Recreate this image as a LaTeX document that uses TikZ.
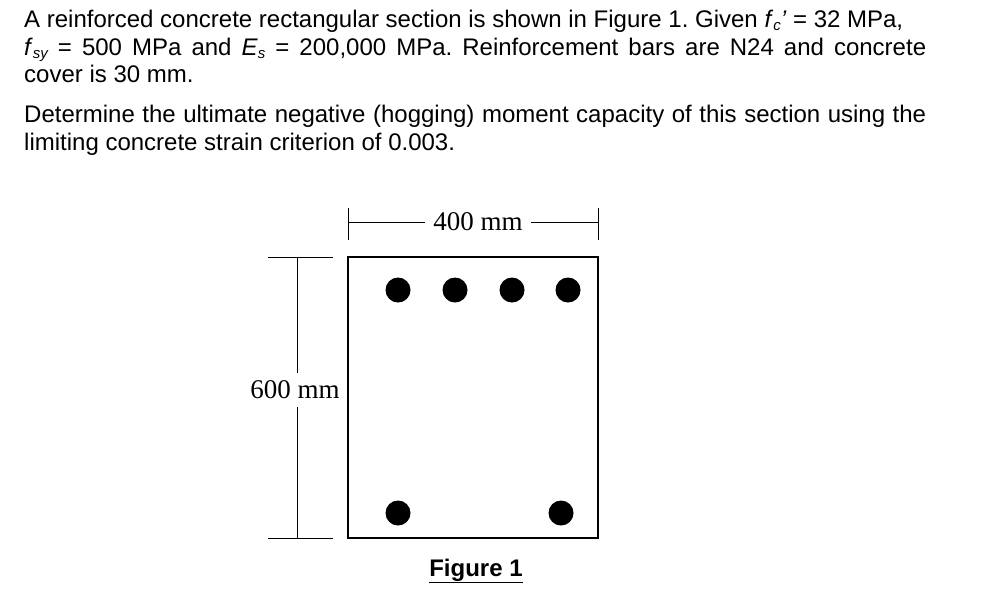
\documentclass[tikz,border=0pt]{standalone}
\usepackage{fontspec}
\setmainfont{Liberation Sans}
\newfontfamily\serifd{Liberation Serif}
\newcommand{\sbx}[1]{\raisebox{-0.25ex}{\fontsize{15}{15}\selectfont\itshape #1}}
\begin{document}
\begin{tikzpicture}[x=1pt,y=-1pt,
  para/.style={anchor=north west,inner sep=0pt,text width=902pt,align=justify,font=\fontsize{24}{27.5}\selectfont\frenchspacing},
  dimtxt/.style={fill=white,inner sep=4pt,font=\serifd\fontsize{27}{30}\selectfont},
  bar/.style={circle,fill=black,minimum size=25pt,inner sep=0pt},
  dimline/.style={line width=0.8pt}]
\useasboundingbox (0,0) rectangle (1000,614);
\node[para] (p1) at (24,10) {A reinforced concrete rectangular section is shown in Figure 1. Given \textit{f}\sbx{c}\textit{'} = 32 MPa,\\ \textit{f}\sbx{sy} = 500 MPa and \textit{E}\sbx{s} = 200,000 MPa. Reinforcement bars are N24 and concrete\linebreak cover is 30 mm.};
\node[para] (p2) at (24,105) {Determine the ultimate negative (hogging) moment capacity of this section using the\linebreak limiting concrete strain criterion of 0.003.};
\draw[line width=1.6pt] (348,257) rectangle (598,538);
\foreach \n/\x in {a/398,b/455,c/512,d/568} \node[bar] (t\n) at (\x,290) {};
\node[bar] (b1) at (398,513) {};
\node[bar] (b2) at (561,513) {};
\draw[dimline] (348,208) -- (348,240) (598,208) -- (598,240);
\draw[dimline] (348,222) -- (598,222);
\node[dimtxt,inner xsep=8pt] (w) at (478,222) {400 mm};
\draw[dimline] (268,257) -- (333,257) (268,538) -- (333,538);
\draw[dimline] (297,257) -- (297,538);
\node[dimtxt,inner ysep=8pt] (h) at (295,390) {600 mm};
\node[font=\bfseries\fontsize{24}{26}\selectfont] (f) at (476,571) {\underline{Figure 1}};
\end{tikzpicture}
\end{document}
